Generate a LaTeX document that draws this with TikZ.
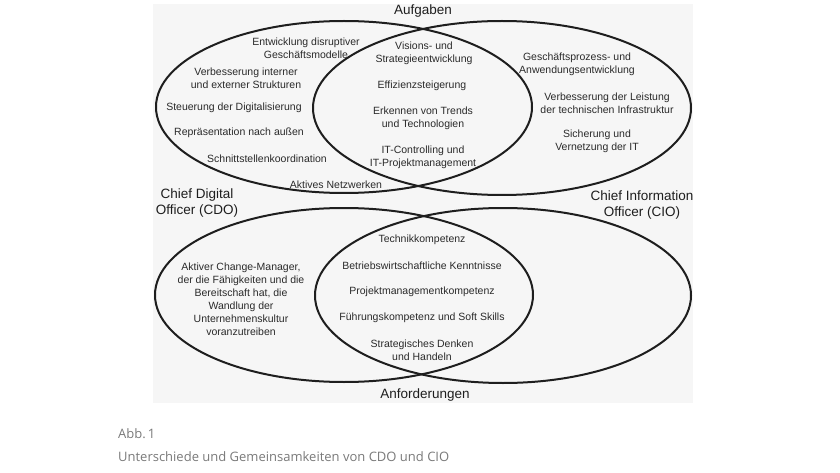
\documentclass[tikz,border=0pt]{standalone}
\usepackage{fontspec}
\setmainfont{Liberation Sans}
\newfontfamily\capfont{Open Sans}
\usetikzlibrary{shapes.geometric}
\definecolor{panel}{HTML}{F6F6F6}
\definecolor{ink}{HTML}{1E1E1E}
\definecolor{txt}{HTML}{2A2A2A}
\definecolor{capgray}{HTML}{7A7A7A}
\begin{document}
\begin{tikzpicture}[x=1pt,y=-1pt,
  venn/.style={draw=ink,line width=2pt,ellipse,inner sep=0pt,fill=none},
  item/.style={text=txt,font=\fontsize{10.5}{12.9}\selectfont,align=center,inner sep=0pt},
  head/.style={text=ink,font=\fontsize{13.5}{16.5}\selectfont,align=center,inner sep=0pt},
  captext/.style={text=capgray,font=\capfont\fontsize{13}{15}\selectfont,anchor=west,inner sep=0pt}]
\useasboundingbox (0,0) rectangle (840,473);
\fill[white] (0,0) rectangle (840,473);
\fill[panel] (153,4) rectangle (693,403);
% ellipses
\node[venn,minimum width=376pt,minimum height=172pt] (tl) at (344,107) {};
\node[venn,minimum width=378pt,minimum height=174pt] (tr) at (502,108) {};
\node[venn,minimum width=378pt,minimum height=174pt] (bl) at (344,295) {};
\node[venn,minimum width=376pt,minimum height=175pt] (br) at (503,295.5) {};
% headings
\node[head] (aufg) at (423,11) {Aufgaben};
\node[head] (anf) at (425,395) {Anforderungen};
\node[head] (cdo) at (197,203) {Chief Digital\\Officer (CDO)};
\node[head] (cio) at (642,205) {Chief Information\\Officer (CIO)};
% top left
\node[item] (t1) at (306,48) {Entwicklung disruptiver\\Geschäftsmodelle};
\node[item] (t2) at (246,78.5) {Verbesserung interner\\und externer Strukturen};
\node[item] (t3) at (234,108) {Steuerung der Digitalisierung};
\node[item] (t4) at (239,133) {Repräsentation nach außen};
\node[item] (t5) at (267,159) {Schnittstellenkoordination};
\node[item] (t6) at (336,185) {Aktives Netzwerken};
% top middle
\node[item] (m1) at (424,53) {Visions- und\\Strategieentwicklung};
\node[item] (m2) at (422,86) {Effizienzsteigerung};
\node[item] (m3) at (423,118) {Erkennen von Trends\\und Technologien};
\node[item] (m4) at (423,157) {IT-Controlling und\\IT-Projektmanagement};
% top right
\node[item] (r1) at (577,64) {Geschäftsprozess- und\\Anwendungsentwicklung};
\node[item] (r2) at (607,103) {Verbesserung der Leistung\\der technischen Infrastruktur};
\node[item] (r3) at (597,141.5) {Sicherung und\\Vernetzung der IT};
% bottom left
\node[item] (b1) at (241,299) {Aktiver Change-Manager,\\der die Fähigkeiten und die\\Bereitschaft hat, die\\Wandlung der\\Unternehmenskultur\\voranzutreiben};
% bottom middle
\node[item] (k1) at (422,240) {Technikkompetenz};
\node[item] (k2) at (422,266) {Betriebswirtschaftliche Kenntnisse};
\node[item] (k3) at (422,292) {Projektmanagementkompetenz};
\node[item] (k4) at (422,318) {Führungskompetenz und Soft Skills};
\node[item] (k5) at (422,350.5) {Strategisches Denken\\und Handeln};
% caption
\node[captext] (abb) at (118,434) {Abb.\,1};
\node[captext] (capt) at (118,457) {Unterschiede und Gemeinsamkeiten von CDO und CIO};
\end{tikzpicture}
\end{document}
